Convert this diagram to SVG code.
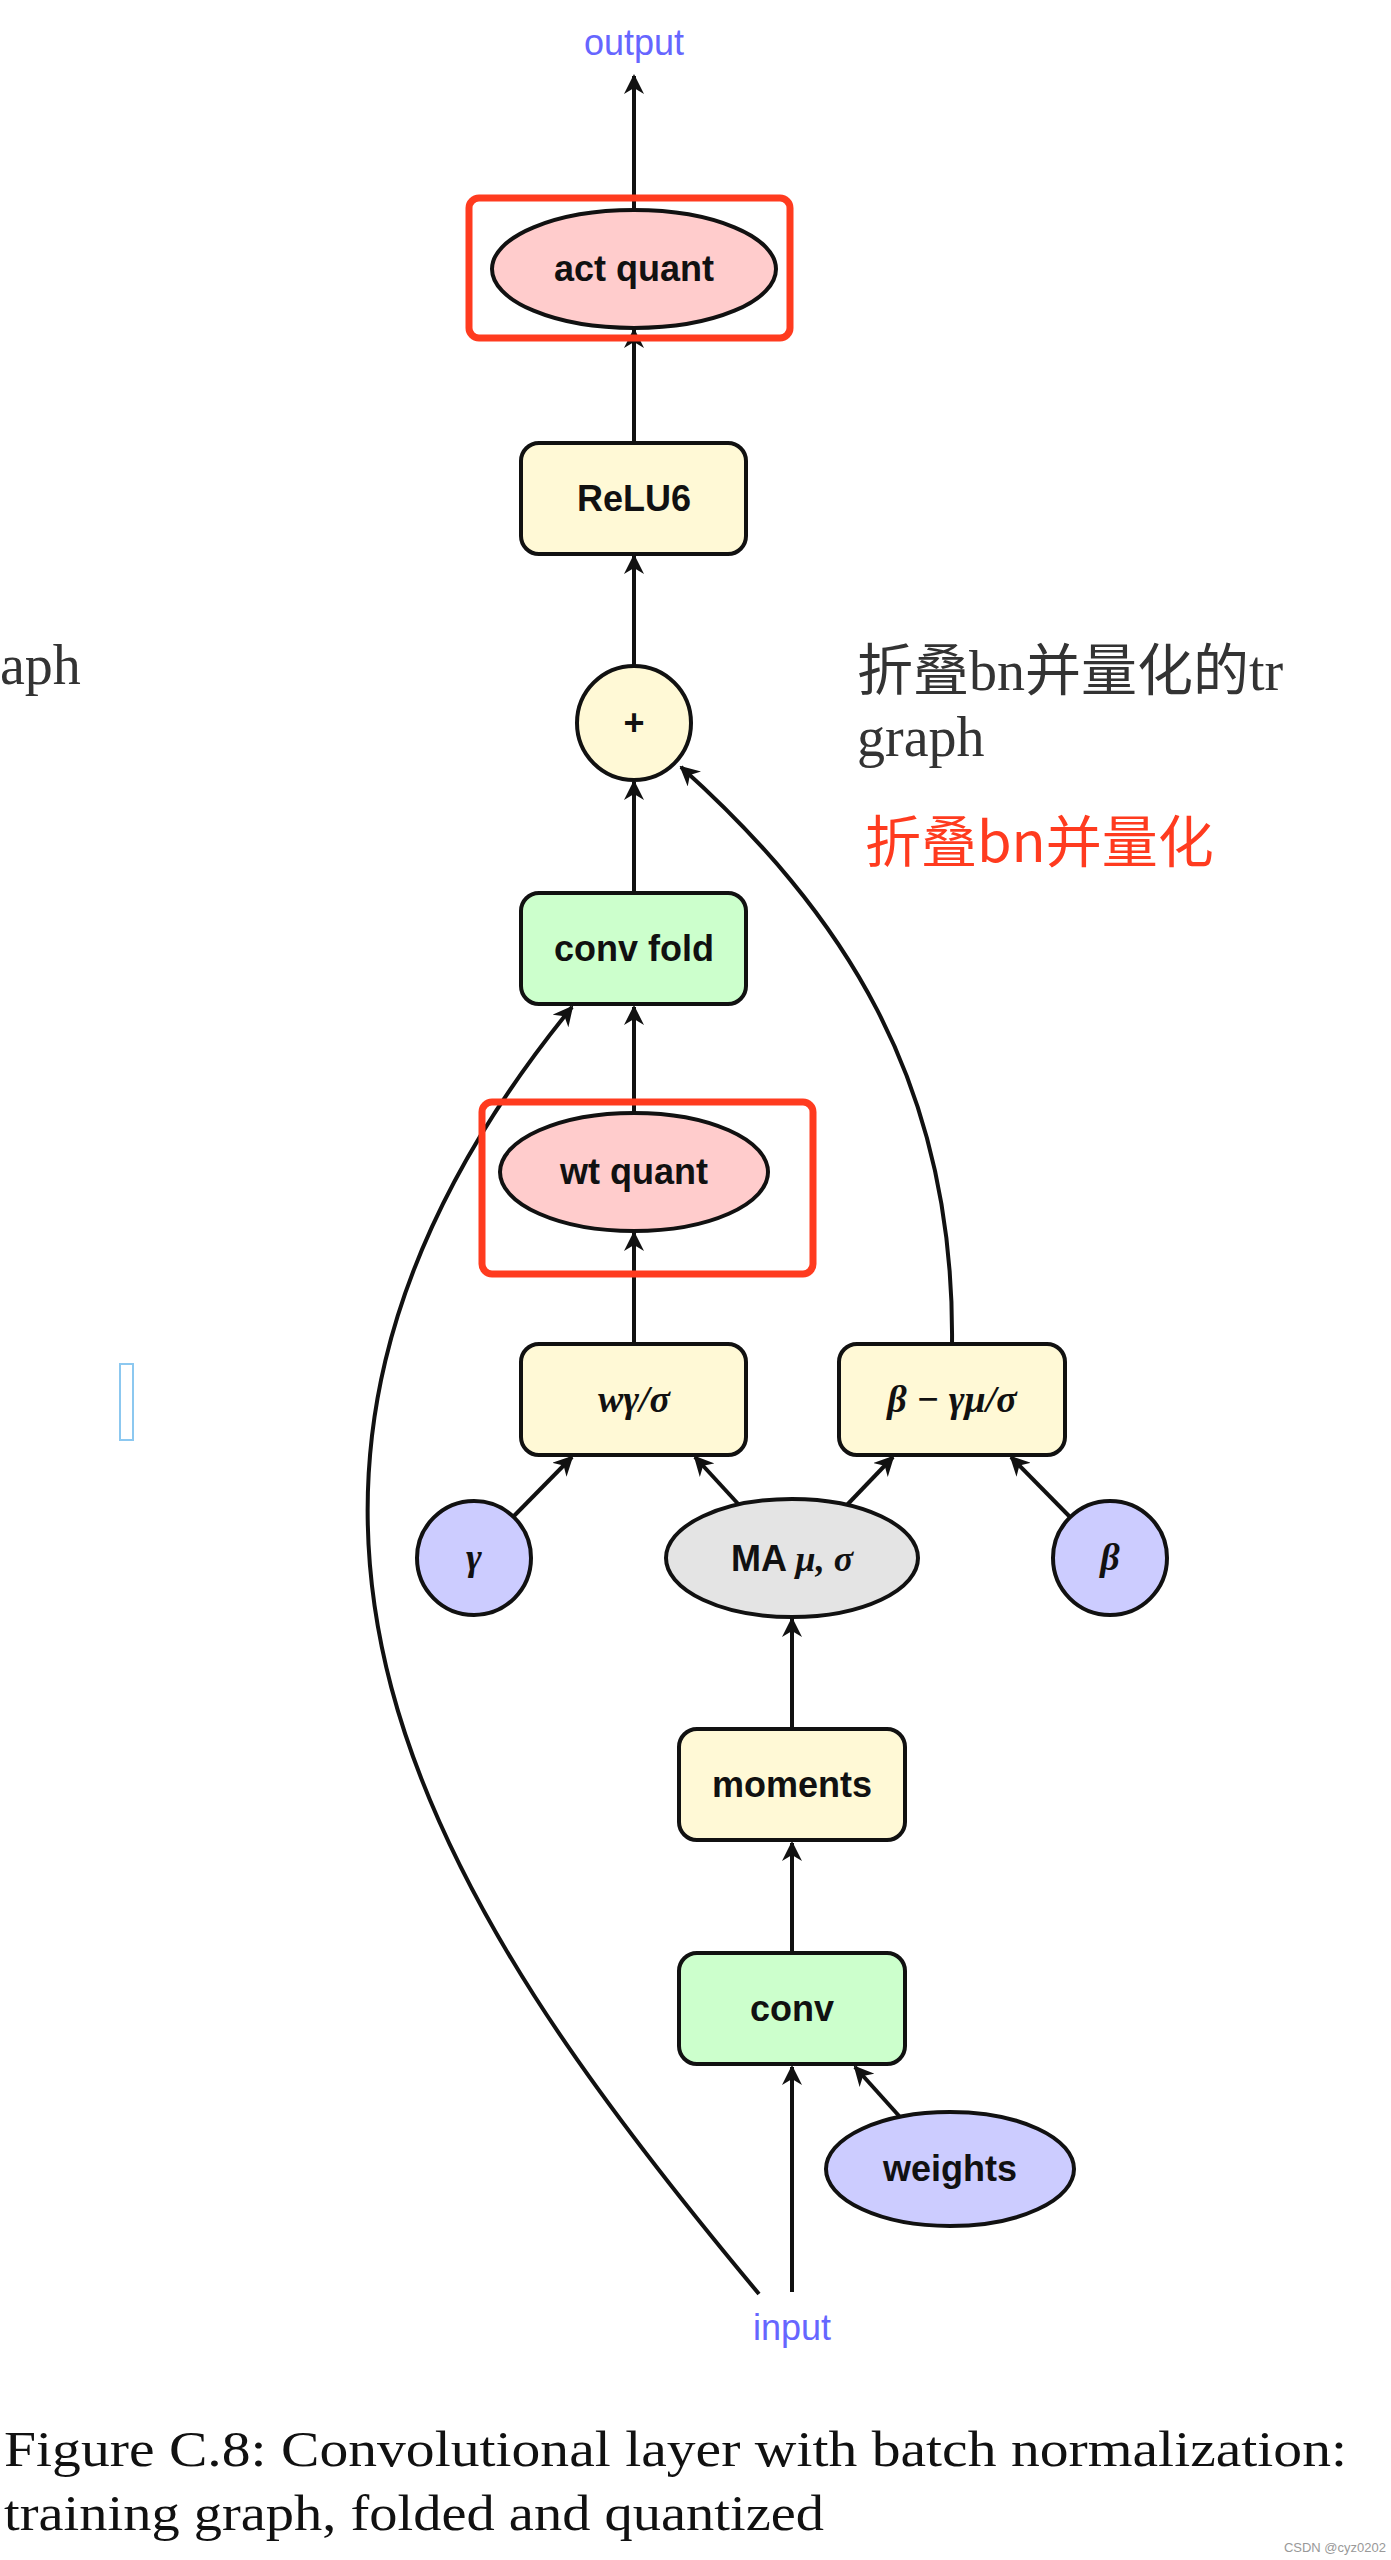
<svg xmlns="http://www.w3.org/2000/svg" width="1391" height="2560" viewBox="0 0 1391 2560">
<style>
.n{stroke:#111;stroke-width:4}
.y{fill:#fff9d6}.g{fill:#ccffcc}.p{fill:#ffcccc}.b{fill:#ccccff}.gr{fill:#e4e4e4}
.t{font-family:"Liberation Sans",Arial,sans-serif;font-weight:bold;font-size:36px;text-anchor:middle;fill:#111}
.m{font-family:"Liberation Serif","DejaVu Serif",serif;font-style:italic;font-weight:bold;font-size:38px;text-anchor:middle;fill:#111}
.io{font-family:"Liberation Sans",Arial,sans-serif;font-size:36px;text-anchor:middle;fill:#6666ff}
.e{fill:none;stroke:#111;stroke-width:4;marker-end:url(#a)}
.hl{fill:none;stroke:#ff3b1f;stroke-width:7}
.s{font-family:"Liberation Serif","Noto Sans CJK SC",serif;font-size:56px;fill:#333}
</style>
<defs><marker id="a" viewBox="0 0 10 10" refX="9" refY="5" markerWidth="5" markerHeight="5" orient="auto"><path d="M0,0 L10,5 L0,10 L3,5 Z" fill="#111"/></marker></defs>
<rect width="1391" height="2560" fill="#fff"/>
<g id="connectors">
<path class="e" d="M634,210 V76"/>
<path class="e" d="M634,443 V330"/>
<path class="e" d="M634,666 V556"/>
<path class="e" d="M634,893 V782"/>
<path class="e" d="M634,1113 V1007"/>
<path class="e" d="M634,1344 V1233"/>
<path class="e" d="M759,2294 C430,1900 170,1500 572,1007"/>
<path class="e" d="M952,1344 C955,1080 840,910 681,767"/>
<path class="e" d="M510,1520 L572,1457"/>
<path class="e" d="M741,1507 L695,1457"/>
<path class="e" d="M845,1507 L893,1457"/>
<path class="e" d="M1073,1520 L1011,1457"/>
<path class="e" d="M792,1729 V1619"/>
<path class="e" d="M792,1953 V1843"/>
<path class="e" d="M792,2292 V2067"/>
<path class="e" d="M900,2117 L855,2067"/>
</g>
<g id="output"><text class="io" x="634" y="55">output</text></g>
<g id="act_quant"><ellipse class="n p" cx="634" cy="269" rx="142" ry="59"/><text class="t" x="634" y="281">act quant</text></g>
<g id="relu6"><rect class="n y" x="521" y="443" width="225" height="111" rx="18"/><text class="t" x="634" y="511">ReLU6</text></g>
<g id="plus"><circle class="n y" cx="634" cy="723" r="57"/><text class="t" x="634" y="735">+</text></g>
<g id="conv_fold"><rect class="n g" x="521" y="893" width="225" height="111" rx="18"/><text class="t" x="634" y="961">conv fold</text></g>
<g id="wt_quant"><ellipse class="n p" cx="634" cy="1172" rx="134" ry="59"/><text class="t" x="634" y="1184">wt quant</text></g>
<g id="wgs"><rect class="n y" x="521" y="1344" width="225" height="111" rx="18"/><text class="m" x="634" y="1412">wγ/σ</text></g>
<g id="bgms"><rect class="n y" x="839" y="1344" width="226" height="111" rx="18"/><text class="m" x="952" y="1412">β − γμ/σ</text></g>
<g id="gamma"><circle class="n b" cx="474" cy="1558" r="57"/><text class="m" x="474" y="1570">γ</text></g>
<g id="ma"><ellipse class="n gr" cx="792" cy="1558" rx="126" ry="59"/><text class="t" x="792" y="1571">MA <tspan font-family="Liberation Serif,serif" font-style="italic">μ, σ</tspan></text></g>
<g id="beta"><circle class="n b" cx="1110" cy="1558" r="57"/><text class="m" x="1110" y="1570">β</text></g>
<g id="moments"><rect class="n y" x="679" y="1729" width="226" height="111" rx="18"/><text class="t" x="792" y="1797">moments</text></g>
<g id="conv"><rect class="n g" x="679" y="1953" width="226" height="111" rx="18"/><text class="t" x="792" y="2021">conv</text></g>
<g id="weights"><ellipse class="n b" cx="950" cy="2169" rx="124" ry="57"/><text class="t" x="950" y="2181">weights</text></g>
<g id="input"><text class="io" x="792" y="2340">input</text></g>
<rect class="hl" x="469" y="198" width="321" height="140" rx="10"/>
<rect class="hl" x="482" y="1102" width="331" height="172" rx="10"/>
<text class="s" x="0" y="684">aph</text>
<text class="s" x="857" y="690">折叠bn并量化的tr</text>
<text class="s" x="857" y="756">graph</text>
<text x="865" y="862" font-family="'Noto Sans CJK SC','Noto Sans',sans-serif" font-size="56" fill="#ff3b1f">折叠bn并量化</text>
<rect x="120" y="1364" width="13" height="76" fill="none" stroke="#8cc8f0" stroke-width="2"/>
<text x="4" y="2466" font-family="'Liberation Serif',serif" font-size="50" fill="#111" textLength="1343" lengthAdjust="spacingAndGlyphs">Figure C.8: Convolutional layer with batch normalization:</text>
<text x="4" y="2530" font-family="'Liberation Serif',serif" font-size="50" fill="#111" textLength="820" lengthAdjust="spacingAndGlyphs">training graph, folded and quantized</text>
<text x="1386" y="2552" font-family="'Liberation Sans',sans-serif" font-size="13" fill="#999" text-anchor="end">CSDN @cyz0202</text>
</svg>
